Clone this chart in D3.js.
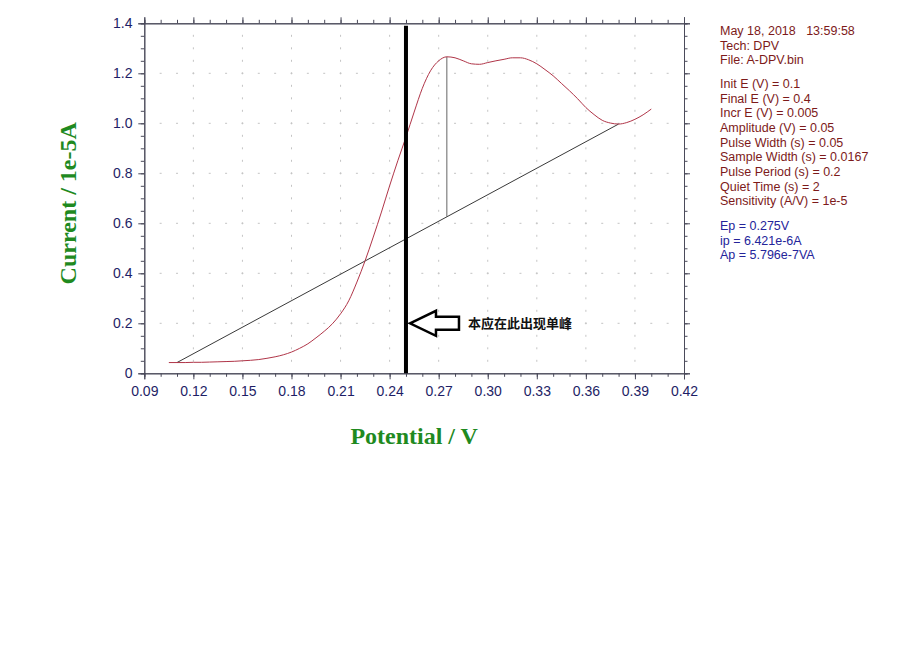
<!DOCTYPE html>
<meta charset="utf-8">
<script src="https://d3js.org/d3.v7.min.js"></script>
<style>
  body { margin: 0; background: #fff; }
</style>
<svg id="chart" width="900" height="653"></svg>
<script>

// DPV scan: potential (V) and current (1e-5 A)
var potential = [0.105, 0.110, 0.115, 0.120, 0.125, 0.130, 0.135, 0.140, 0.145, 0.150,
                 0.155, 0.160, 0.165, 0.170, 0.175, 0.180, 0.185, 0.190, 0.195, 0.200,
                 0.205, 0.210, 0.215, 0.220, 0.225, 0.230, 0.235, 0.240, 0.245, 0.250,
                 0.255, 0.260, 0.265, 0.270, 0.275, 0.280, 0.285, 0.290, 0.295, 0.300,
                 0.305, 0.310, 0.315, 0.320, 0.325, 0.330, 0.335, 0.340, 0.345, 0.350,
                 0.355, 0.360, 0.365, 0.370, 0.375, 0.380, 0.385, 0.390, 0.395, 0.400];
var current = [0.043, 0.043, 0.043, 0.044, 0.044, 0.045, 0.046, 0.047, 0.048, 0.050,
               0.052, 0.055, 0.060, 0.066, 0.074, 0.085, 0.100, 0.118, 0.142, 0.168,
               0.198, 0.238, 0.290, 0.365, 0.450, 0.545, 0.645, 0.750, 0.850, 0.945,
               1.045, 1.140, 1.210, 1.250, 1.266, 1.262, 1.250, 1.238, 1.236, 1.243,
               1.250, 1.256, 1.262, 1.262, 1.254, 1.238, 1.215, 1.190, 1.160, 1.130,
               1.098, 1.063, 1.035, 1.012, 1.001, 0.997, 1.003, 1.016, 1.034, 1.057];

// baseline drawn by the software, and the peak marker
var baseline = [[0.110, 0.043], [0.380, 0.997]];
var peakLine = [[0.275, 0.626], [0.275, 1.266]];

// hand-drawn annotation
var markerE = 0.25;
var markerTop = 1.39;
var arrowAt = [0.25, 0.2];
var noteText = "本应在此出现单峰";

var xTicks = [0.09, 0.12, 0.15, 0.18, 0.21, 0.24, 0.27, 0.30, 0.33, 0.36, 0.39, 0.42];
var yTicks = [0, 0.2, 0.4, 0.6, 0.8, 1.0, 1.2, 1.4];

var infoLines = ["May 18, 2018   13:59:58", "Tech: DPV", "File: A-DPV.bin"];
var paramLines = ["Init E (V) = 0.1", "Final E (V) = 0.4", "Incr E (V) = 0.005",
                  "Amplitude (V) = 0.05", "Pulse Width (s) = 0.05", "Sample Width (s) = 0.0167",
                  "Pulse Period (s) = 0.2", "Quiet Time (s) = 2", "Sensitivity (A/V) = 1e-5"];
var resultLines = ["Ep = 0.275V", "ip = 6.421e-6A", "Ap = 5.796e-7VA"];

var svg = d3.select("#chart");
var plotLeft = 144.3, plotRight = 684, plotTop = 23.3, plotBottom = 373.3;

var x = d3.scaleLinear().domain([0.09, 0.42]).range([plotLeft, plotRight]);
var y = d3.scaleLinear().domain([0, 1.4]).range([plotBottom, plotTop]);

var axisColor = "#4a4a5a";
var labelColor = "#1e1e66";

// dotted grid
var grid = svg.append("g");
var gridDotsH = [];
yTicks.slice(1, -1).forEach(function(v) {
  d3.range(0.10, 0.415, 0.01).forEach(function(e) { gridDotsH.push([e, v]); });
});
var gridDotsV = [];
xTicks.slice(1, -1).forEach(function(e) {
  d3.range(0.05, 1.40, 0.05).forEach(function(v) { gridDotsV.push([e, v]); });
});
grid.selectAll("rect.h")
  .data(gridDotsH)
  .enter()
  .append("rect")
    .attr("x", function(d) { return x(d[0]) - 1; })
    .attr("y", function(d) { return y(d[1]) - 0.5; })
    .attr("width", 2)
    .attr("height", 1)
    .attr("fill", "#c4c4c4");
grid.selectAll("rect.v")
  .data(gridDotsV)
  .enter()
  .append("rect")
    .attr("x", function(d) { return x(d[0]) - 0.5; })
    .attr("y", function(d) { return y(d[1]) - 1; })
    .attr("width", 1)
    .attr("height", 2)
    .attr("fill", "#c4c4c4");

// axes: major ticks with labels, minor ticks without
var xMinor = d3.range(0.09, 0.4201, 0.01);
var yMinor = d3.range(0, 1.4001, 0.05);

function drawAxis(axisFn, scale, major, minor, transform, labels) {
  var g = svg.append("g").attr("transform", transform);
  g.call(axisFn(scale).tickValues(minor).tickSize(3.5).tickFormat(""));
  var m = svg.append("g").attr("transform", transform);
  m.call(axisFn(scale).tickValues(major).tickSize(6).tickFormat(labels || ""));
  [g, m].forEach(function(a) {
    a.selectAll("path, line").attr("stroke", axisColor);
    a.selectAll("text")
      .attr("fill", labelColor)
      .style("font-family", "Arial, 'Liberation Sans', sans-serif")
      .style("font-size", "14px");
  });
  return m;
}

var xb = drawAxis(d3.axisBottom, x, xTicks, xMinor, "translate(0," + plotBottom + ")", d3.format(".2f"));
xb.selectAll("text").attr("dy", "1.0em");
drawAxis(d3.axisTop, x, xTicks, xMinor, "translate(0," + plotTop + ")");
var yl = drawAxis(d3.axisLeft, y, yTicks, yMinor, "translate(" + plotLeft + ",0)",
  function(d) { return d === 0 ? "0" : d3.format(".1f")(d); });
yl.selectAll("text").attr("dx", "-0.2em");
drawAxis(d3.axisRight, y, yTicks, yMinor, "translate(" + plotRight + ",0)");

// axis titles
svg.append("text")
  .attr("x", (plotLeft + plotRight) / 2)
  .attr("y", 444)
  .attr("text-anchor", "middle")
  .style("font-family", "'Times New Roman', 'Liberation Serif', serif")
  .style("font-weight", "bold")
  .style("font-size", "24px")
  .attr("fill", "#1f8a1f")
  .text("Potential / V");
svg.append("text")
  .attr("transform", "translate(76," + ((plotTop + plotBottom) / 2 + 5) + ") rotate(-90)")
  .attr("text-anchor", "middle")
  .style("font-family", "'Times New Roman', 'Liberation Serif', serif")
  .style("font-weight", "bold")
  .style("font-size", "24px")
  .attr("fill", "#1f8a1f")
  .text("Current / 1e-5A");

// baseline and peak marker
var seg = d3.line().x(function(d) { return x(d[0]); }).y(function(d) { return y(d[1]); });
svg.append("path")
  .attr("d", seg(baseline))
  .attr("fill", "none")
  .attr("stroke", "#222")
  .attr("stroke-width", 0.9);
svg.append("path")
  .attr("d", seg(peakLine))
  .attr("fill", "none")
  .attr("stroke", "#666")
  .attr("stroke-width", 1);

// the scan
var line = d3.line()
  .curve(d3.curveMonotoneX)
  .x(function(d, i) { return x(potential[i]); })
  .y(function(d) { return y(d); });
svg.append("path")
  .attr("d", line(current))
  .attr("fill", "none")
  .attr("stroke", "#b03548")
  .attr("stroke-width", 1);

// thick hand-drawn marker
svg.append("line")
  .attr("x1", x(markerE))
  .attr("x2", x(markerE))
  .attr("y1", y(0))
  .attr("y2", y(markerTop))
  .attr("stroke", "#000")
  .attr("stroke-width", 4);

// outlined arrow pointing at the marker
var ax = x(arrowAt[0]) + 4, ay = y(arrowAt[1]);
var arrowShape = [[0, 0], [26, -12.5], [26, -6.5], [49, -6.5], [49, 6.5], [26, 6.5], [26, 12.5]];
svg.append("polygon")
  .attr("points", arrowShape.map(function(p) { return (ax + p[0]) + "," + (ay + p[1]); }).join(" "))
  .attr("fill", "#fff")
  .attr("stroke", "#000")
  .attr("stroke-width", 2.5)
  .attr("stroke-linejoin", "miter");
svg.append("text")
  .attr("x", ax + 58)
  .attr("y", ay)
  .attr("dy", "0.36em")
  .style("font-family", "'Noto Sans CJK SC', sans-serif")
  .style("font-weight", "bold")
  .style("font-size", "13px")
  .attr("fill", "#111")
  .text(noteText);

// run information on the right
function block(lines, startY, color) {
  svg.append("g")
    .selectAll("text")
    .data(lines)
    .enter()
    .append("text")
      .attr("x", 720)
      .attr("y", function(d, i) { return startY + i * 14.7; })
      .attr("dy", "0.35em")
      .style("font-family", "Arial, 'Liberation Sans', sans-serif")
      .style("font-size", "12.5px")
      .style("white-space", "pre")
      .attr("fill", color)
      .text(function(d) { return d; });
}
block(infoLines, 30.5, "#7d1a1a");
block(paramLines, 83.5, "#7d1a1a");
block(resultLines, 225.5, "#24249a");

</script>
